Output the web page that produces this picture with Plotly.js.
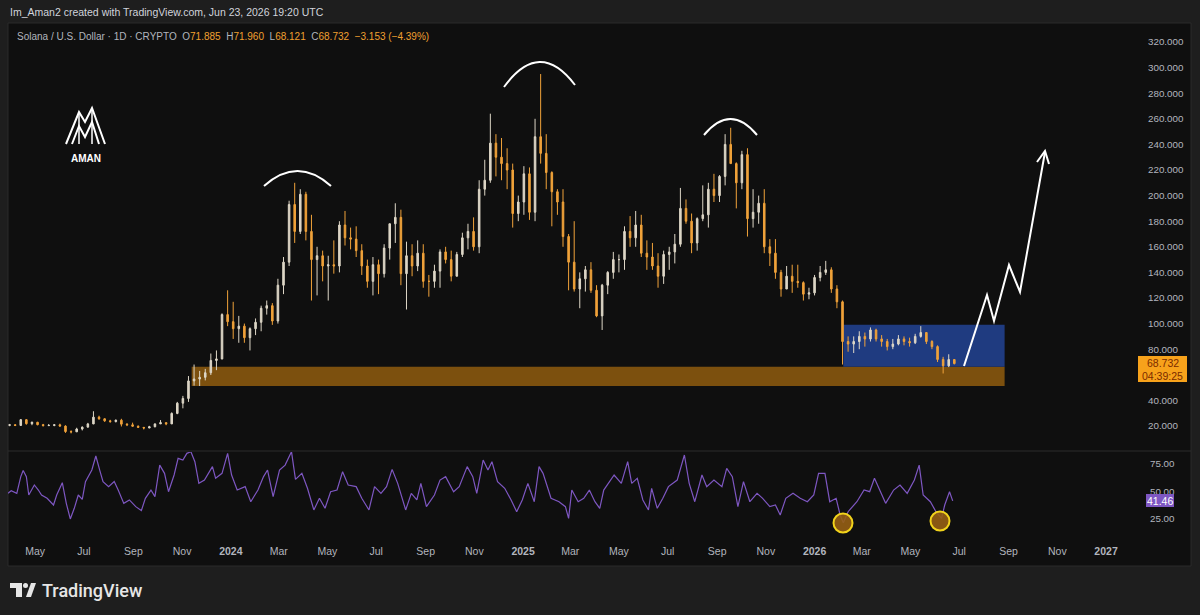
<!DOCTYPE html>
<html><head><meta charset="utf-8">
<script src="https://cdn.plot.ly/plotly-3.0.1.min.js"></script>
<style>html,body{margin:0;padding:0;background:#1e1e1e;overflow:hidden}#chart{width:1200px;height:615px}</style>
</head><body><div id="chart"></div>
<script>
// ---------- DATA (weekly candles) ----------
const firstWeek = '2023-03-30';   // centre of first weekly candle
const firstOpen = 20.5;
const closes = [20.9,20.4,24.9,21.8,22.9,21.0,20.3,20.4,20.9,19.9,15.6,15.4,17.6,19.1,21.6,26.9,25.6,24.0,23.4,24.5,21.4,20.9,19.8,18.9,18.4,19.4,21.6,22.6,21.6,29.8,37.8,41.5,55.2,56.7,58.0,61.6,71.2,72.4,107,101.5,
 96,98,89,96,101,112,114,102,130,148,193,172,201,172,150,153,145,146,145,177,167,166,157,145,133,146,139,159,178,183,139,153,145,155,133,133,141,156,150,137,154,167,172,160,205,212,241,230,225,220,186,195,217,
 187,246,233,218,203,195,168,148,127,135,142,126,106,130,140,150,150,172,167,177,155,152,145,137,154,156,162,190,180,163,182,185,205,200,215,240,225,210,232,182,187,194,160,155,140,127,137,133,132,123,124,136,
 140,142,127,117,86,84,86,90,88,95,88,86,82,84,88,86,85,90,93,86,82,72,67,71.9,68.73];
const highs = [21.6,21.4,25.4,25.2,23.4,23.2,21.6,21.5,21.2,21.8,20.5,16.6,18.6,19.6,22.4,31.5,28.0,26.0,24.8,25.0,25.6,22.2,22.6,20.4,19.2,20.1,22.0,24.6,22.8,30.6,38.8,43.5,59.0,68.0,63.0,64.6,76.6,79.0,108,126,
 117,106,100,97,104,114,118,116,135,152,196,210,205,203,185,160,157,153,165,180,188,175,176,162,150,152,150,162,178,194,189,164,162,165,162,138,146,158,160,157,156,171,178,183,212,228,264,248,245,237,225,200,223,
 222,260,295,248,219,205,205,170,180,140,145,148,130,131,141,156,154,176,184,188,185,165,163,155,157,160,170,206,197,186,183,208,210,217,216,248,253,226,235,237,205,200,205,166,166,142,145,146,146,133,128,138,
 145,149,144,130,118,90,90,94,93,97,96,91,88,88,91,90,89,92,98,93,87,83,74,76,72];
const lows = [19.8,19.9,20.2,21.0,20.6,20.5,19.6,19.9,19.8,19.4,14.6,14.2,15.3,16.5,18.6,21.4,24.8,23.2,22.6,22.8,19.6,19.9,19.5,18.6,17.3,18.3,18.9,21.6,20.6,21.6,29.2,33.8,38.8,51.5,51.2,55.6,59.8,63.6,72.0,98,
 88,85,85,79,91,94,107,99,100,123,145,163,170,165,118,122,133,118,139,140,161,158,152,138,128,122,123,136,150,163,130,111,137,141,128,121,128,128,147,133,137,152,158,157,155,200,210,215,212,205,175,180,185,
 181,180,225,205,176,185,160,126,125,112,125,124,105,95,123,135,140,142,160,160,152,142,142,128,131,142,147,160,178,155,157,180,175,195,195,208,225,190,205,168,175,178,155,145,135,121,127,124,128,118,119,122,
 133,138,124,112,68,78,77,80,82,86,86,82,79,80,83,83,82,84,89,84,80,70,61,66,68.1];

// RSI (14): day offset from 2024-01-01 and value
const rsiDay = [-279,-275,-268,-263,-260,-256,-253,-246,-241,-237,-230,-222,-218,-211,-206,-201,-196,-191,-186,-182,-174,-169,-164,-160,-153,-146,-141,-134,-127,-119,-112,-107,-100,-95,-89,-83,-78,-71,-66,-60,-55,-50,-45,-40,-33,-23,-19,-11,-4,1,8,18,25,34,41,46,53,61,68,76,81,89,96,104,111,118,125,133,140,147,157,164,173,180,188,195,202,209,219,226,233,238,245,255,262,269,279,286,296,303,308,316,322,327,334,343,351,358,365,372,380,386,391,401,411,419,423,427,435,442,449,456,462,467,480,489,497,502,509,516,523,527,534,541,548,559,568,574,581,590,596,605,615,621,628,635,642,650,659,666,675,682,688,695,704,713,722,730,736,744,750,758,763,767,773,784,793,800,806,813,820,830,838,847,856,862,867,876,883,890,894,900,904];
const rsiVal = [48.3,50.7,48.3,63.5,69,63.5,46.8,55.9,51.3,46.8,43.8,37.7,46.8,58,39.2,25,34.7,46.8,42.9,58.9,69.5,82.3,69,59,54.4,59,51.3,39.2,42.3,36.2,32.6,43.8,51.3,45.3,74,66.5,49.8,65,80.1,78.6,84.7,86.2,77.1,57.4,60.4,72.6,62,66.5,84.7,65,51.3,54.4,40.7,51.3,63.5,69.5,45.3,69.5,74,86.2,61,66.5,52.9,33.2,43.8,34.7,49.8,51.3,68,55.9,54.4,43.8,33.2,54.4,48.3,54.4,70.1,57.4,33.2,48.3,42.3,57.4,36.2,46.8,60.4,63.5,49.8,54.4,72.6,63.5,48.3,78.6,69.5,77.1,59,52.9,42.3,31.6,42.3,57.4,40.7,72.6,66.5,43.8,40.7,36.2,25.6,51.3,40.7,43.8,51.3,40.7,34.7,51.3,65,57.4,77.1,57.4,62,42.3,33.2,52.9,34.7,43.8,54.4,60.4,83.2,57.4,40.7,65,54.4,60.4,54.4,71,63.5,36.2,59,40.7,48.3,43.8,36.2,37.7,28.6,43.8,48.3,43.8,40.7,46.8,66.5,66.5,40.7,43.8,28.6,21.6,31.6,40.7,51.3,49.8,62,51.3,39.2,51.3,55.9,48.3,60.4,74,46.8,40.7,31.6,25.6,37.7,49.8,41.46];

const priceTicks = [20,40,80,100,120,140,160,180,200,220,240,260,280,300,320];
const rsiTicks = [25,50,75];
const timeTickDates = ['2023-05-01','2023-07-01','2023-09-01','2023-11-01','2024-01-01','2024-03-01','2024-05-01','2024-07-01','2024-09-01','2024-11-01','2025-01-01','2025-03-01','2025-05-01','2025-07-01','2025-09-01','2025-11-01','2026-01-01','2026-03-01','2026-05-01','2026-07-01','2026-09-01','2026-11-01','2027-01-01'];
const timeTickText = ['May','Jul','Sep','Nov','<b>2024</b>','Mar','May','Jul','Sep','Nov','<b>2025</b>','Mar','May','Jul','Sep','Nov','<b>2026</b>','Mar','May','Jul','Sep','Nov','<b>2027</b>'];

const supportZone = {x0:'2023-11-13', x1:'2026-08-27', y0:51.3, y1:66.3};
const rangeBox = {x0:'2026-02-06', x1:'2026-08-27', y0:66.3, y1:99.1};
const lastPrice = '68.732', countdown = '04:39:25', lastRsi = '41.46';

// ---------- BUILD ----------
const DAY = 864e5;
const t0 = Date.parse(firstWeek + 'T00:00:00Z');
const dates = closes.map((_, i) => new Date(t0 + i * 7 * DAY).toISOString().slice(0, 10));
const opens = closes.map((c, i) => i === 0 ? firstOpen : closes[i - 1]);
const base = Date.UTC(2024, 0, 1);
const rsiX = rsiDay.map(d => new Date(base + d * DAY).toISOString().slice(0, 10));

const FONT = 'Liberation Sans, Arial, sans-serif';
const L = 8, R = 1130, T = 25, B = 537;
const px = x => (x - L) / (R - L);
const py = y => (B - y) / (B - T);
const P = (x, y) => px(x).toFixed(5) + ',' + py(y).toFixed(5);

const traces = [
  {type: 'candlestick', x: dates, open: opens, high: highs, low: lows, close: closes,
   xaxis: 'x', yaxis: 'y', hoverinfo: 'skip', whiskerwidth: 0,
   increasing: {line: {color: '#ddd6c6', width: 1}, fillcolor: '#ddd6c6'},
   decreasing: {line: {color: '#f0a23a', width: 1}, fillcolor: '#f0a23a'}},
  {type: 'scatter', mode: 'lines', x: rsiX, y: rsiVal, xaxis: 'x', yaxis: 'y2',
   line: {color: '#7e57c2', width: 1.2}, hoverinfo: 'skip'}
];

const shapes = [
  {type: 'rect', xref: 'paper', yref: 'paper', x0: px(8), x1: px(1191), y0: py(566), y1: py(23),
   fillcolor: '#0f0f0f', line: {color: '#2a2a2a', width: 1}, layer: 'below'},
  {type: 'line', xref: 'paper', yref: 'paper', x0: px(8), x1: px(1191), y0: py(451), y1: py(451),
   line: {color: '#2c2c2c', width: 1}},
  {type: 'rect', xref: 'x', yref: 'y', x0: supportZone.x0, x1: supportZone.x1, y0: supportZone.y0, y1: supportZone.y1,
   fillcolor: '#7c500e', line: {width: 0}, layer: 'below'},
  {type: 'rect', xref: 'x', yref: 'y', x0: rangeBox.x0, x1: rangeBox.x1, y0: rangeBox.y0, y1: rangeBox.y1,
   fillcolor: '#1f3b80', line: {width: 0}, layer: 'below'},
  {type: 'path', xref: 'paper', yref: 'paper', path: `M ${P(264,186)} Q ${P(297.5,156)} ${P(331,186)}`, line: {color: '#ffffff', width: 2}},
  {type: 'path', xref: 'paper', yref: 'paper', path: `M ${P(504,87)} Q ${P(539.5,38)} ${P(575,85)}`, line: {color: '#ffffff', width: 2}},
  {type: 'path', xref: 'paper', yref: 'paper', path: `M ${P(704,135)} Q ${P(730.5,103)} ${P(757,135)}`, line: {color: '#ffffff', width: 2}},
  {type: 'path', xref: 'paper', yref: 'paper',
   path: `M ${P(964,366)} L ${P(987,295)} L ${P(994,321)} L ${P(1009,265)} L ${P(1020,292)} L ${P(1045,152)}`,
   line: {color: '#ffffff', width: 2}},
  {type: 'path', xref: 'paper', yref: 'paper', path: `M ${P(1037,162)} L ${P(1045,151)} L ${P(1049,164)}`,
   line: {color: '#ffffff', width: 2}},
  {type: 'circle', xref: 'paper', yref: 'paper', x0: px(833.5), x1: px(852.5), y0: py(532.5), y1: py(513.5),
   fillcolor: 'rgba(150,95,20,0.9)', line: {color: '#f2d31b', width: 2}},
  {type: 'circle', xref: 'paper', yref: 'paper', x0: px(930.5), x1: px(949.5), y0: py(530.5), y1: py(511.5),
   fillcolor: 'rgba(150,95,20,0.9)', line: {color: '#f2d31b', width: 2}},
  {type: 'rect', xref: 'paper', yref: 'paper', x0: px(1138), x1: px(1187), y0: py(382), y1: py(356),
   fillcolor: '#f7a21b', line: {width: 0}},
  {type: 'rect', xref: 'paper', yref: 'paper', x0: px(1146), x1: px(1174), y0: py(507), y1: py(494),
   fillcolor: '#7e57c2', line: {width: 0}},
  {type: 'rect', xref: 'paper', yref: 'paper', x0: px(10), x1: px(22), y0: py(588), y1: py(583), fillcolor: '#e6e6e6', line: {width: 0}},
  {type: 'rect', xref: 'paper', yref: 'paper', x0: px(16), x1: px(22), y0: py(597), y1: py(583), fillcolor: '#e6e6e6', line: {width: 0}},
  {type: 'circle', xref: 'paper', yref: 'paper', x0: px(23), x1: px(28), y0: py(588), y1: py(583), fillcolor: '#e6e6e6', line: {width: 0}},
  {type: 'path', xref: 'paper', yref: 'paper', path: `M ${P(26,597)} L ${P(31,583)} L ${P(36,583)} L ${P(31,597)} Z`, fillcolor: '#e6e6e6', line: {width: 0}},
  {type: 'path', xref: 'paper', yref: 'paper',
   path: `M ${P(66,144)} L ${P(79,112)} L ${P(85,122)} L ${P(92,108)} L ${P(105,144)}`,
   line: {color: '#ffffff', width: 2}},
  {type: 'path', xref: 'paper', yref: 'paper',
   path: `M ${P(72,144)} L ${P(79,126)} L ${P(85,137)} L ${P(92,122)} L ${P(99,144)}`,
   line: {color: '#ffffff', width: 2}},
  {type: 'path', xref: 'paper', yref: 'paper',
   path: `M ${P(79,112)} L ${P(79,144)} M ${P(92,108)} L ${P(92,144)}`,
   line: {color: '#ffffff', width: 1.5}}
];

const grayTxt = '#b2b5be', orange = '#f0a030';
const sp = (t) => `<span style="color:${orange}">${t}</span>`;
const NB = '\u00a0';
const annotations = [
  {xref: 'paper', yref: 'paper', x: px(8), y: py(12), xanchor: 'left', yanchor: 'middle', showarrow: false,
   text: 'Im_Aman2 created with TradingView.com, Jun 23, 2026 19:20 UTC', font: {family: FONT, size: 10.5, color: '#d1d4dc'}},
  {xref: 'paper', yref: 'paper', x: px(15), y: py(36), xanchor: 'left', yanchor: 'middle', showarrow: false,
   text: 'Solana / U.S. Dollar · 1D · CRYPTO' + NB + NB + 'O' + sp('71.885') + NB + NB + 'H' + sp('71.960') + NB + NB + 'L' + sp('68.121') + NB + NB + 'C' + sp('68.732') + NB + NB + sp('\u22123.153 (\u22124.39%)'),
   font: {family: FONT, size: 10, color: grayTxt}},
  {xref: 'paper', yref: 'paper', x: px(1162.5), y: py(363), xanchor: 'center', yanchor: 'middle', showarrow: false,
   text: lastPrice, font: {family: FONT, size: 10.5, color: '#7a2a00'}},
  {xref: 'paper', yref: 'paper', x: px(1162.5), y: py(375.5), xanchor: 'center', yanchor: 'middle', showarrow: false,
   text: countdown, font: {family: FONT, size: 10.5, color: '#7a2a00'}},
  {xref: 'paper', yref: 'paper', x: px(1160), y: py(500.5), xanchor: 'center', yanchor: 'middle', showarrow: false,
   text: lastRsi, font: {family: FONT, size: 10.5, color: '#ffffff'}},
  {xref: 'paper', yref: 'paper', x: px(40), y: py(590), xanchor: 'left', yanchor: 'middle', showarrow: false,
   text: 'TradingView', font: {family: 'Roboto, sans-serif', size: 18, color: '#e6e6e6', weight: 500}},
  {xref: 'paper', yref: 'paper', x: px(85.5), y: py(158), xanchor: 'center', yanchor: 'middle', showarrow: false,
   text: '<b>AMAN</b>', font: {family: FONT, size: 10, color: '#ffffff'}}
];

const layout = {
  width: 1200, height: 615,
  margin: {l: L, r: 1200 - R, t: T, b: 615 - B, pad: 0},
  paper_bgcolor: '#1e1e1e', plot_bgcolor: '#0f0f0f',
  showlegend: false, hovermode: false, dragmode: false,
  boxgap: 0.72, boxgroupgap: 0,
  xaxis: {type: 'date', anchor: 'y2', range: ['2023-03-28', '2027-01-31'],
          tickvals: timeTickDates, ticktext: timeTickText, ticks: '', showgrid: false, zeroline: false,
          showline: false, ticklabelstandoff: 6,
          tickfont: {family: FONT, size: 10.5, color: grayTxt}, rangeslider: {visible: false}},
  yaxis: {domain: [0.17, 1], side: 'right', range: [1.25, 333.3], tickvals: priceTicks, tickformat: '.3f',
          showgrid: false, zeroline: false, ticks: '', ticklabelstandoff: 17,
          tickfont: {family: FONT, size: 9.8, color: grayTxt}},
  yaxis2: {domain: [0, 0.166], side: 'right', range: [8.6, 85.9], tickvals: rsiTicks, tickformat: '.2f',
           showgrid: false, zeroline: false, ticks: '', ticklabelstandoff: 19,
           tickfont: {family: FONT, size: 9.8, color: grayTxt}},
  shapes, annotations
};

Plotly.newPlot('chart', traces, layout, {staticPlot: true, displayModeBar: false});
</script></body></html>
